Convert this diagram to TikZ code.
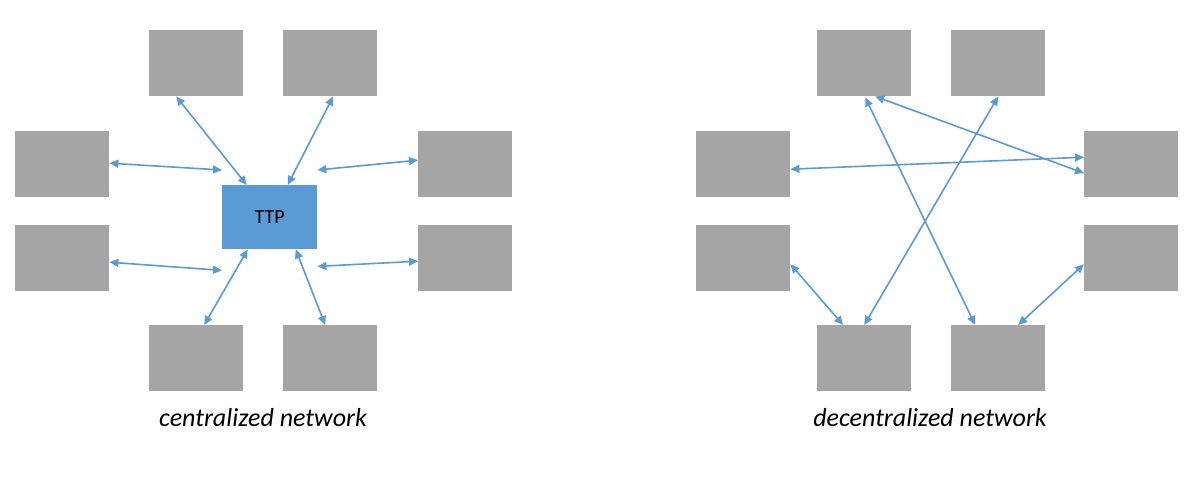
\documentclass[tikz,border=0pt]{standalone}
\usepackage{fontspec}
\setmainfont{Carlito}
\usetikzlibrary{arrows.meta}
\definecolor{boxg}{HTML}{A5A5A5}
\definecolor{blu}{HTML}{5B9BD5}
\begin{document}
\begin{tikzpicture}[x=1pt,y=-1pt,
 box/.style={fill=boxg,minimum width=94pt,minimum height=66pt,inner sep=0,anchor=north west},
 ar/.style={draw=blu,line width=1.6pt,{Triangle[length=9pt,width=8pt]}-{Triangle[length=9pt,width=8pt]}},
 lab/.style={font=\itshape\fontsize{26}{30}\selectfont}]
\useasboundingbox (0,0) rectangle (1200,494);
% left
\node[box] (a1) at (149,30) {};
\node[box] (a2) at (283,30) {};
\node[box] (a3) at (15,131) {};
\node[box] (a4) at (15,225) {};
\node[box] (a5) at (418,131) {};
\node[box] (a6) at (418,225) {};
\node[box] (a7) at (149,325) {};
\node[box] (a8) at (283,325) {};
\node[box,fill=blu,minimum width=95pt,minimum height=64pt,font=\fontsize{20}{24}\selectfont] (t) at (222,185) {TTP};
\draw[ar] ([xshift=-20pt]a1.south) -- ([xshift=-23pt]t.north);
\draw[ar] ([xshift=3pt]a2.south) -- ([xshift=18pt]t.north);
\draw[ar] ([yshift=1pt]a3.east) -- ([yshift=15pt]t.north west);
\draw[ar] ([yshift=-4pt]a4.east) -- ([yshift=-21pt]t.south west);
\draw[ar] ([yshift=4pt]a5.west) -- ([yshift=15pt]t.north east);
\draw[ar] ([yshift=-3pt]a6.west) -- ([yshift=-17pt]t.south east);
\draw[ar] ([xshift=8pt]a7.north) -- ([xshift=-22pt]t.south);
\draw[ar] ([xshift=-5pt]a8.north) -- ([xshift=26pt]t.south);
\node[lab] (l1) at (263,418) {centralized network};
% right
\node[box] (b1) at (817,30) {};
\node[box] (b2) at (951,30) {};
\node[box] (b3) at (696,131) {};
\node[box] (b4) at (696,225) {};
\node[box] (b5) at (1084,131) {};
\node[box] (b6) at (1084,225) {};
\node[box] (b7) at (817,325) {};
\node[box] (b8) at (951,325) {};
\draw[ar] ([xshift=11pt]b1.south) -- ([yshift=-9pt]b5.west);
\draw[ar] ([xshift=1pt,yshift=-1pt]b1.south) -- ([xshift=-23pt]b8.north);
\draw[ar] ([yshift=-5pt]b3.east) -- ([yshift=7pt]b5.west);
\draw[ar] ([xshift=0pt]b2.south) -- ([xshift=0pt]b7.north);
\draw[ar] ([yshift=-6pt]b4.east) -- ([xshift=-21pt]b7.north);
\draw[ar] ([yshift=-6pt]b6.west) -- ([xshift=20pt]b8.north);
\node[lab] (l2) at (930,418) {decentralized network};
\end{tikzpicture}
\end{document}
